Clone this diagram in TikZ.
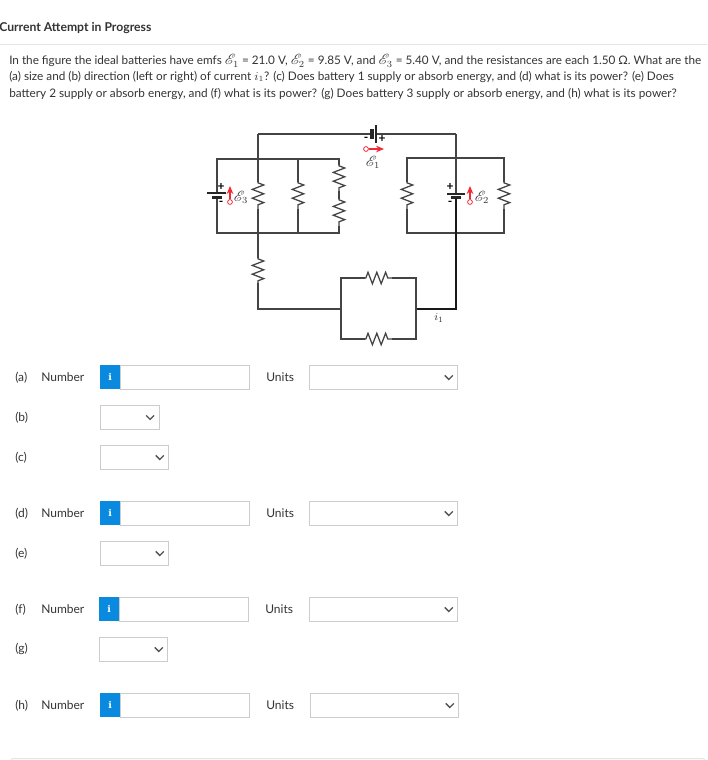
\documentclass[tikz,border=0pt]{standalone}
\usepackage{amsmath}
\usepackage{mathrsfs}
\usepackage{fontspec}
\setmainfont{Lato}
\newfontfamily\iconfont{DejaVu Serif}
\usetikzlibrary{decorations.pathmorphing,arrows.meta}
\definecolor{wirecol}{HTML}{444444}
\definecolor{textcol}{HTML}{333333}
\definecolor{framecol}{HTML}{CCCCCC}
\definecolor{infocol}{HTML}{0A8ADF}
\definecolor{emfcol}{HTML}{EE2B36}
\newcommand{\emf}[1]{$\mathscr{E}_{#1}$}
\newcommand{\bigemf}[1]{{\fontsize{10.5}{11}\selectfont\emf{#1}}}

\begin{document}
\begin{tikzpicture}[
		x=0.75pt, y=-0.75pt,
		every node/.style={inner sep=0pt, text=textcol, font=\fontsize{9}{11}\selectfont},
		wire/.style={draw=wirecol, line width=1.1pt},
		heavy/.style={draw=black!90, line width=1.5pt},
		resistor/.style={wire, line width=0.95pt, decorate, decoration={zigzag, amplitude=4.3pt, segment length=6.6pt, pre length=0.6pt, post length=0.6pt}},
		plate/.style={draw=black!85, line width=1.2pt},
		shortplate/.style={draw=black!85, line width=2.6pt},
		emfarrow/.style={draw=emfcol, line width=1pt, -{Stealth[length=6pt, width=5pt]}},
		emfdot/.style={circle, draw=emfcol, line width=0.6pt, minimum size=3.6pt, fill=white},
		sign/.style={font=\bfseries\fontsize{9}{9}\selectfont, text=black},
		emflabel/.style={font=\fontsize{10.5}{12}\selectfont},
		question/.style={anchor=west, yshift=-0.6pt, font=\fontsize{8.84}{11}\selectfont},
		inputbox/.style={draw=framecol, line width=0.6pt, fill=white, anchor=north west, minimum height=18pt},
		infobox/.style={fill=infocol, anchor=north west, minimum width=15pt, minimum height=18pt, font=\iconfont\bfseries\fontsize{7}{8}\selectfont, text=white},
		chevron/.style={draw=textcol!85, line width=1pt},
		rowlabel/.style={anchor=west, yshift=-0.2pt}
	]
  \useasboundingbox (0,0) rectangle (707,760);

  % heading and question
  \node (title) [anchor=west, yshift=-0.6pt, font=\bfseries\fontsize{9.15}{11}\selectfont] at (-1,27) {Current Attempt in Progress};
  \coordinate (rule_l) at (0,44);
  \coordinate (rule_r) at (707,44);
  \draw [draw=black!10, line width=0.7pt] (rule_l) -- (rule_r);
  \node (line_1) [question, font=\fontsize{8.8}{11}\selectfont] at (9,60) {In the figure the ideal batteries have emfs \bigemf{1} = 21.0 V, \bigemf{2} = 9.85 V, and \bigemf{3} = 5.40 V, and the resistances are each 1.50 Ω. What are the};
  \node (line_2) [question] at (9,76) {(a) size and (b) direction (left or right) of current $i_1$? (c) Does battery 1 supply or absorb energy, and (d) what is its power? (e) Does};
  \node (line_3) [question] at (9,93) {battery 2 supply or absorb energy, and (f) what is its power? (g) Does battery 3 supply or absorb energy, and (h) what is its power?};

  % junctions of the circuit
  \coordinate (top_l) at (258,134);
  \coordinate (top_r) at (456,134);
  \coordinate (bat1_l) at (372,134);
  \coordinate (bat1_r) at (376,134);
  \coordinate (left_tl) at (217,159);
  \coordinate (left_bl) at (217,233);
  \coordinate (left_tn) at (298,159);
  \coordinate (left_bn) at (298,233);
  \coordinate (left_tr) at (339,159);
  \coordinate (left_br) at (339,233);
  \coordinate (right_tl) at (407,158);
  \coordinate (right_bl) at (407,233);
  \coordinate (right_tr) at (504,158);
  \coordinate (right_br) at (504,233);
  \coordinate (low_c) at (258,309);
  \coordinate (pair_w) at (341,309);
  \coordinate (pair_e) at (416,309);
  \coordinate (pair_tl) at (341,278);
  \coordinate (pair_bl) at (341,339);
  \coordinate (pair_tr) at (416,278);
  \coordinate (pair_br) at (416,339);
  \coordinate (corner) at (456,309);

  % left loop
  \coordinate (bat3_a) at (217,193);
  \coordinate (bat3_b) at (217,197);
  \coordinate (r_a1) at (258,182);
  \coordinate (r_a2) at (258,209);
  \coordinate (r_b1) at (298,182);
  \coordinate (r_b2) at (298,209);
  \coordinate (r_c1) at (339,165);
  \coordinate (r_c2) at (339,191);
  \coordinate (r_d1) at (339,199);
  \coordinate (r_d2) at (339,226);
  \draw [wire] (bat3_a) -- (left_tl) -- (left_tr) -- (r_c1);
  \draw [wire] (bat3_b) -- (left_bl) -- (left_br) -- (r_d2);
  \draw [resistor] (r_c1) -- (r_c2);
  \draw [wire] (r_c2) -- (r_d1);
  \draw [resistor] (r_d1) -- (r_d2);
  \draw [wire] (left_tn) -- (r_b1);
  \draw [resistor] (r_b1) -- (r_b2);
  \draw [wire] (r_b2) -- (left_bn);
  \draw [wire] (top_l) -- (r_a1);
  \draw [resistor] (r_a1) -- (r_a2);
  \coordinate (r_e1) at (258,258);
  \coordinate (r_e2) at (258,283);
  \draw [wire] (r_a2) -- (r_e1);
  \draw [resistor] (r_e1) -- (r_e2);
  \draw [wire] (r_e2) -- (low_c) -- (pair_w);

  % top wire
  \draw [wire] (top_l) -- (bat1_l);
  \draw [wire] (bat1_r) -- (top_r);

  % right loop
  \coordinate (bat2_a) at (456,194);
  \coordinate (bat2_b) at (456,197);
  \coordinate (r_f1) at (407,182);
  \coordinate (r_f2) at (407,209);
  \coordinate (r_g1) at (504,182);
  \coordinate (r_g2) at (504,209);
  \draw [wire] (top_r) -- (bat2_a);
  \draw [wire] (r_f1) -- (right_tl) -- (right_tr) -- (r_g1);
  \draw [wire] (r_f2) -- (right_bl) -- (right_br) -- (r_g2);
  \draw [resistor] (r_f1) -- (r_f2);
  \draw [resistor] (r_g1) -- (r_g2);
  \draw [heavy] (bat2_b) -- (corner) -- (pair_e);

  % lower pair of resistors
  \coordinate (r_h1) at (365,278);
  \coordinate (r_h2) at (392,278);
  \coordinate (r_i1) at (365,339);
  \coordinate (r_i2) at (392,339);
  \draw [wire] (r_h1) -- (pair_tl) -- (pair_bl) -- (r_i1);
  \draw [wire] (r_h2) -- (pair_tr) -- (pair_br) -- (r_i2);
  \draw [resistor] (r_h1) -- (r_h2);
  \draw [resistor] (r_i1) -- (r_i2);
  \node (i_1) [font=\fontsize{8}{9}\selectfont] at (439,318) {$i_1$};

  % batteries
  \coordinate (b1_lt) at (376,125);
  \coordinate (b1_lb) at (376,143);
  \coordinate (b1_st) at (372,129);
  \coordinate (b1_sb) at (372,139);
  \draw [plate] (b1_lt) -- (b1_lb);
  \draw [shortplate] (b1_st) -- (b1_sb);
  \node (b1_minus) [sign] at (366,139) {-};
  \node (b1_plus) [sign] at (382,139) {+};
  \node (e1_dot) [emfdot] at (366,149) {};
  \coordinate (e1_tip) at (384,149);
  \draw [emfarrow] (e1_dot) -- (e1_tip);
  \node (e1) [emflabel] at (373,162) {\emf{1}};

  \coordinate (b2_ll) at (447,194);
  \coordinate (b2_lr) at (465,194);
  \coordinate (b2_sl) at (451,197.5);
  \coordinate (b2_sr) at (461,197.5);
  \draw [plate] (b2_ll) -- (b2_lr);
  \draw [shortplate] (b2_sl) -- (b2_sr);
  \node (b2_plus) [sign] at (450,187) {+};
  \node (b2_minus) [sign] at (450,203) {-};
  \node (e2_dot) [emfdot] at (470,202) {};
  \coordinate (e2_tip) at (470,186);
  \draw [emfarrow] (e2_dot) -- (e2_tip);
  \node (e2) [emflabel] at (482,197) {\emf{2}};

  \coordinate (b3_ll) at (207,193);
  \coordinate (b3_lr) at (226,193);
  \coordinate (b3_sl) at (212,197.5);
  \coordinate (b3_sr) at (222,197.5);
  \draw [plate] (b3_ll) -- (b3_lr);
  \draw [shortplate] (b3_sl) -- (b3_sr);
  \node (b3_plus) [sign] at (221,187) {+};
  \node (b3_minus) [sign] at (221,203) {-};
  \node (e3_dot) [emfdot] at (230,202) {};
  \coordinate (e3_tip) at (230,186);
  \draw [emfarrow] (e3_dot) -- (e3_tip);
  \node (e3) [emflabel] at (241,197) {\emf{3}};

  % answer rows
  \node (a_lab) [rowlabel] at (15,377) {(a)};
  \node (a_num) [rowlabel] at (41,377) {Number};
  \node (a_info) [infobox] at (100,365) {i};
  \node (a_box) [inputbox, minimum width=97pt] at (120,365) {};
  \node (a_units) [rowlabel] at (266,377) {Units};
  \node (a_sel) [inputbox, minimum width=111pt] at (309,365) {};
  \draw [chevron] (a_sel.east) ++(-13,-2) -- ++(4,4) -- ++(4,-4);

  \node (b_lab) [rowlabel] at (15,417) {(b)};
  \node (b_sel) [inputbox, minimum width=44.5pt] at (100,405) {};
  \draw [chevron] (b_sel.east) ++(-14,-2) -- ++(4,4) -- ++(4,-4);

  \node (c_lab) [rowlabel] at (15,457) {(c)};
  \node (c_sel) [inputbox, minimum width=51pt] at (100,445) {};
  \draw [chevron] (c_sel.east) ++(-13,-2) -- ++(4,4) -- ++(4,-4);

  \node (d_lab) [rowlabel] at (15,513) {(d)};
  \node (d_num) [rowlabel] at (41,513) {Number};
  \node (d_info) [infobox] at (100,501) {i};
  \node (d_box) [inputbox, minimum width=97pt] at (120,501) {};
  \node (d_units) [rowlabel] at (266,513) {Units};
  \node (d_sel) [inputbox, minimum width=111pt] at (309,501) {};
  \draw [chevron] (d_sel.east) ++(-13,-2) -- ++(4,4) -- ++(4,-4);

  \node (e_lab) [rowlabel] at (15,553) {(e)};
  \node (e_sel) [inputbox, minimum width=51pt] at (100,541) {};
  \draw [chevron] (e_sel.east) ++(-13,-2) -- ++(4,4) -- ++(4,-4);

  \node (f_lab) [rowlabel] at (15,609) {(f)};
  \node (f_num) [rowlabel] at (41,609) {Number};
  \node (f_info) [infobox] at (99,597) {i};
  \node (f_box) [inputbox, minimum width=97pt] at (119,597) {};
  \node (f_units) [rowlabel] at (265,609) {Units};
  \node (f_sel) [inputbox, minimum width=111pt] at (309,597) {};
  \draw [chevron] (f_sel.east) ++(-13,-2) -- ++(4,4) -- ++(4,-4);

  \node (g_lab) [rowlabel] at (15,649) {(g)};
  \node (g_sel) [inputbox, minimum width=51pt] at (99,637) {};
  \draw [chevron] (g_sel.east) ++(-13,-2) -- ++(4,4) -- ++(4,-4);

  \node (h_lab) [rowlabel] at (15,705) {(h)};
  \node (h_num) [rowlabel] at (41,705) {Number};
  \node (h_info) [infobox] at (100,693) {i};
  \node (h_box) [inputbox, minimum width=97pt] at (120,693) {};
  \node (h_units) [rowlabel] at (266,705) {Units};
  \node (h_sel) [inputbox, minimum width=111pt] at (310,693) {};
  \draw [chevron] (h_sel.east) ++(-13,-2) -- ++(4,4) -- ++(4,-4);

  \node (footer) [draw=black!10, line width=0.7pt, fill=black!2, rounded corners=2pt, anchor=north west, minimum width=521pt, minimum height=10pt] at (10,758) {};
\end{tikzpicture}
\end{document}
